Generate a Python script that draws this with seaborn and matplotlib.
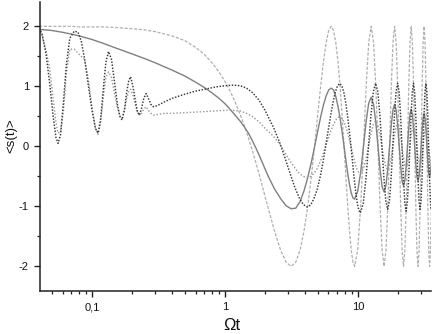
import matplotlib
matplotlib.use("Agg")
import matplotlib.pyplot as plt
import seaborn as sns
import pandas as pd
from matplotlib.ticker import FixedLocator, NullFormatter, MultipleLocator, LogLocator

# ---------------- data ----------------
# grid A: light dashed curve and solid curve
t_a_early = [0.04, 0.05, 0.06, 0.07, 0.08, 0.1, 0.12, 0.15, 0.2, 0.25, 0.3, 0.4, 0.5, 0.6,
             0.7, 0.8, 0.9, 1.0, 1.1, 1.2, 1.3, 1.4, 1.5, 1.6, 1.7, 1.8, 1.9]
light_early = [2.0, 2.0, 2.0, 2.0, 1.99, 1.99, 1.99, 1.98, 1.96, 1.94, 1.91, 1.84, 1.76, 1.65,
               1.53, 1.39, 1.24, 1.08, 0.91, 0.72, 0.53, 0.34, 0.14, -0.06, -0.26, -0.45, -0.65]
solid_early = [1.95, 1.93, 1.90, 1.87, 1.84, 1.78, 1.72, 1.64, 1.54, 1.46, 1.39, 1.27, 1.17, 1.07,
               0.98, 0.89, 0.80, 0.71, 0.61, 0.51, 0.42, 0.32, 0.22, 0.10, -0.02, -0.14, -0.26]

t_a_mid = [2.094, 2.356, 2.618, 2.880, 3.142, 3.403, 3.665, 3.927, 4.189, 4.451, 4.712, 4.974,
           5.236, 5.498, 5.760, 6.021, 6.283, 6.545, 6.807, 7.069, 7.330, 7.592, 7.854, 8.116,
           8.378, 8.639, 8.901, 9.163, 9.425]
light_mid = [-1.0, -1.41, -1.73, -1.93, -2.0, -1.93, -1.73, -1.41, -1.0, -0.52, 0.0, 0.52,
             1.0, 1.41, 1.73, 1.93, 2.0, 1.93, 1.73, 1.41, 1.0, 0.52, 0.0, -0.52,
             -1.0, -1.41, -1.73, -1.93, -2.0]
solid_mid = [-0.48, -0.71, -0.87, -0.99, -1.04, -1.03, -0.92, -0.74, -0.52, -0.27, -0.01, 0.25,
             0.49, 0.69, 0.84, 0.94, 0.97, 0.94, 0.83, 0.67, 0.47, 0.24, 0.0, -0.24,
             -0.46, -0.64, -0.78, -0.86, -0.88]

t_a_late = [9.948, 10.472, 10.996, 11.519, 12.043, 12.566, 13.090, 13.614, 14.137, 14.661,
            15.184, 15.708, 16.232, 16.755, 17.279, 17.802, 18.326, 18.850, 19.373, 19.897,
            20.420, 20.944, 21.468, 21.991, 22.515, 23.038, 23.562, 24.086, 24.609, 25.133,
            25.656, 26.180, 26.704, 27.227, 27.751, 28.274, 28.798, 29.322, 29.845, 30.369,
            30.892, 31.416, 31.940, 32.463, 32.987, 33.510, 34.034, 34.558, 35.081, 35.605,
            36.128]
light_late = [-1.73, -1.0, 0.0, 1.0, 1.73, 2.0, 1.73, 1.0, 0.0, -1.0, -1.73, -2.0,
              -1.73, -1.0, 0.0, 1.0, 1.73, 2.0, 1.73, 1.0, 0.0, -1.0, -1.73, -2.0,
              -1.73, -1.0, 0.0, 1.0, 1.73, 2.0, 1.73, 1.0, 0.0, -1.0, -1.73, -2.0,
              -1.73, -1.0, 0.0, 1.0, 1.73, 2.0, 1.73, 1.0, 0.0, -1.0, -1.73, -2.0,
              -1.73, -1.0, 0.0]
solid_late = [-0.75, -0.43, 0.0, 0.42, 0.72, 0.82, 0.70, 0.40, 0.0, -0.39, -0.67, -0.76,
              -0.65, -0.37, 0.0, 0.36, 0.61, 0.70, 0.60, 0.34, 0.0, -0.33, -0.58, -0.66,
              -0.57, -0.32, 0.0, 0.31, 0.54, 0.62, 0.53, 0.30, 0.0, -0.30, -0.51, -0.58,
              -0.50, -0.29, 0.0, 0.28, 0.48, 0.55, 0.47, 0.27, 0.0, -0.26, -0.45, -0.52,
              -0.45, -0.26, 0.0]

# grid B: dark dotted curve and grey dotted curve
t_b_early = [0.04, 0.042, 0.045, 0.048, 0.051, 0.0535, 0.0555, 0.058, 0.061, 0.064,
             0.068, 0.0735, 0.0785, 0.083, 0.088, 0.094, 0.1, 0.106, 0.111, 0.116,
             0.122, 0.127, 0.133, 0.14, 0.147, 0.155, 0.162, 0.168, 0.175, 0.182,
             0.189, 0.195, 0.203, 0.211, 0.219, 0.227, 0.235, 0.245, 0.255, 0.265,
             0.277, 0.289, 0.31, 0.35, 0.4, 0.5, 0.6, 0.7, 0.85, 1.0,
             1.15, 1.3, 1.45, 1.6, 1.8, 2.0]
dark_early = [1.97, 1.88, 1.55, 1.05, 0.5, 0.15, 0.05, 0.2, 0.75, 1.35,
              1.8, 1.92, 1.9, 1.75, 1.45, 1.0, 0.6, 0.3, 0.22, 0.45,
              1.0, 1.4, 1.58, 1.45, 1.1, 0.7, 0.5, 0.44, 0.6, 0.9,
              1.1, 1.16, 1.0, 0.78, 0.58, 0.52, 0.62, 0.8, 0.88, 0.8,
              0.7, 0.66, 0.68, 0.74, 0.8, 0.87, 0.92, 0.95, 0.99, 1.01,
              1.02, 1.01, 0.97, 0.9, 0.77, 0.6]
gray_early = [1.96, 1.85, 1.6, 1.3, 0.8, 0.4, 0.22, 0.25, 0.6, 1.2,
              1.62, 1.62, 1.55, 1.5, 1.44, 1.1, 0.65, 0.3, 0.2, 0.4,
              0.85, 1.15, 1.24, 1.15, 0.9, 0.65, 0.5, 0.47, 0.6, 0.8,
              0.92, 0.95, 0.85, 0.7, 0.58, 0.52, 0.55, 0.62, 0.66, 0.6,
              0.55, 0.52, 0.53, 0.55, 0.55, 0.56, 0.57, 0.58, 0.59, 0.6,
              0.6, 0.59, 0.55, 0.5, 0.41, 0.3]

t_b_mid = [2.309, 2.571, 2.833, 3.094, 3.356, 3.618, 3.880, 4.142, 4.403, 4.665, 4.927, 5.189,
           5.451, 5.712, 5.974, 6.236, 6.498, 6.760, 7.021, 7.283, 7.545, 7.807, 8.069, 8.330,
           8.592, 8.854, 9.116, 9.378, 9.639, 9.901, 10.163, 10.425]
dark_mid = [0.32, 0.07, -0.2, -0.46, -0.69, -0.86, -0.97, -1.01, -0.98, -0.87, -0.72, -0.51,
            -0.27, 0.0, 0.27, 0.52, 0.74, 0.91, 1.01, 1.05, 1.01, 0.91, 0.74, 0.52,
            0.27, 0.0, -0.28, -0.55, -0.78, -0.96, -1.07, -1.11]
gray_mid = [0.17, 0.04, -0.11, -0.25, -0.36, -0.45, -0.5, -0.52, -0.5, -0.45, -0.37, -0.26,
            -0.13, 0.0, 0.13, 0.25, 0.35, 0.43, 0.48, 0.49, 0.47, 0.42, 0.34, 0.24,
            0.12, 0.0, -0.12, -0.23, -0.33, -0.4, -0.44, -0.45]

t_b_late = [10.948, 11.472, 11.996, 12.519, 13.043, 13.566, 14.090, 14.614, 15.137, 15.661,
            16.184, 16.708, 17.232, 17.755, 18.279, 18.802, 19.326, 19.850, 20.373, 20.897,
            21.420, 21.944, 22.468, 22.991, 23.515, 24.038, 24.562, 25.086, 25.609, 26.133,
            26.656, 27.180, 27.704, 28.227, 28.751, 29.274, 29.798, 30.322, 30.845, 31.369,
            31.892, 32.416, 32.940, 33.463, 33.987, 34.510, 35.034, 35.558, 36.081]
dark_late = [-0.95, -0.54, 0.0, 0.52, 0.91, 1.05, 0.91, 0.52, 0.0, -0.52, -0.91, -1.05,
             -0.91, -0.52, 0.0, 0.52, 0.91, 1.05, 0.91, 0.52, 0.0, -0.53, -0.93, -1.08,
             -0.93, -0.53, 0.0, 0.52, 0.91, 1.05, 0.91, 0.52, 0.0, -0.52, -0.91, -1.05,
             -0.91, -0.52, 0.0, 0.52, 0.91, 1.05, 0.91, 0.52, 0.0, -0.52, -0.91, -1.05,
             -0.91]
gray_late = [-0.38, -0.22, 0.0, 0.21, 0.37, 0.42, 0.36, 0.20, 0.0, -0.20, -0.34, -0.39,
             -0.33, -0.19, 0.0, 0.19, 0.32, 0.37, 0.32, 0.18, 0.0, -0.18, -0.31, -0.35,
             -0.30, -0.17, 0.0, 0.17, 0.29, 0.33, 0.29, 0.16, 0.0, -0.16, -0.27, -0.31,
             -0.27, -0.155, 0.0, 0.15, 0.26, 0.30, 0.26, 0.15, 0.0, -0.15, -0.25, -0.29,
             -0.25]

x_tick_values = [0.1, 1, 10]
x_tick_labels = ["0,1", "1", "10"]
y_tick_values = [-2, -1, 0, 1, 2]
y_tick_labels = ["-2", "-1", "0", "1", "2"]

# ---------------- assemble ----------------
t_a = t_a_early + t_a_mid + t_a_late
t_b = t_b_early + t_b_mid + t_b_late
frames = [
    pd.DataFrame({"t": t_a, "s": light_early + light_mid + light_late, "curve": "light"}),
    pd.DataFrame({"t": t_a, "s": solid_early + solid_mid + solid_late, "curve": "solid"}),
    pd.DataFrame({"t": t_b, "s": gray_early + gray_mid + gray_late, "curve": "gray"}),
    pd.DataFrame({"t": t_b, "s": dark_early + dark_mid + dark_late, "curve": "dark"}),
]
df = pd.concat(frames, ignore_index=True)

styles = {
    "light": dict(color="#b0b0b0", lw=0.9, ls=(0, (2.5, 1.3))),
    "solid": dict(color="#808080", lw=1.0, ls="-"),
    "gray": dict(color="#969696", lw=1.0, ls=(0, (1, 1.4))),
    "dark": dict(color="#383838", lw=1.05, ls=(0, (1, 1.1))),
}

sns.set_style("ticks")
plt.rcParams["font.family"] = ["Liberation Sans", "DejaVu Sans"]

fig = plt.figure(figsize=(4.32, 3.34), dpi=100)
ax = fig.add_axes([40 / 432, 1 - 291 / 334, 391 / 432, 289 / 334])

for name in ["light", "solid", "gray", "dark"]:
    st = styles[name]
    sns.lineplot(data=df[df["curve"] == name], x="t", y="s", ax=ax, color=st["color"],
                 linewidth=st["lw"], linestyle=st["ls"], estimator=None, sort=False)

ax.set_xscale("log")
ax.set_xlim(0.0406, 35.4)
ax.set_ylim(-2.41, 2.405)

ax.xaxis.set_major_locator(FixedLocator(x_tick_values))
ax.set_xticklabels(x_tick_labels)
ax.xaxis.set_minor_locator(LogLocator(base=10, subs=[2, 3, 4, 5, 6, 7, 8, 9], numticks=20))
ax.xaxis.set_minor_formatter(NullFormatter())
ax.yaxis.set_major_locator(FixedLocator(y_tick_values))
ax.set_yticklabels(y_tick_labels)
ax.yaxis.set_minor_locator(MultipleLocator(0.5))

for side in ["top", "right"]:
    ax.spines[side].set_visible(False)
for side in ["left", "bottom"]:
    ax.spines[side].set_linewidth(1.1)
    ax.spines[side].set_color("#222222")

ax.tick_params(which="major", direction="out", length=4, width=1.0, color="#222222",
               labelsize=8, pad=4, labelcolor="#111111")
ax.tick_params(which="minor", direction="out", length=2.5, width=0.9, color="#222222")

ax.set_xlabel("")
ax.set_ylabel("")
fig.text(232 / 432, 1 - 325 / 334, "\u03a9t", fontsize=12, ha="center", va="center",
         color="#111111")
fig.text(11 / 432, 1 - 136 / 334, "<s(t)>", fontsize=9.5, rotation=90, ha="center",
         va="center", color="#111111")

fig.savefig("out.png", dpi=100)
